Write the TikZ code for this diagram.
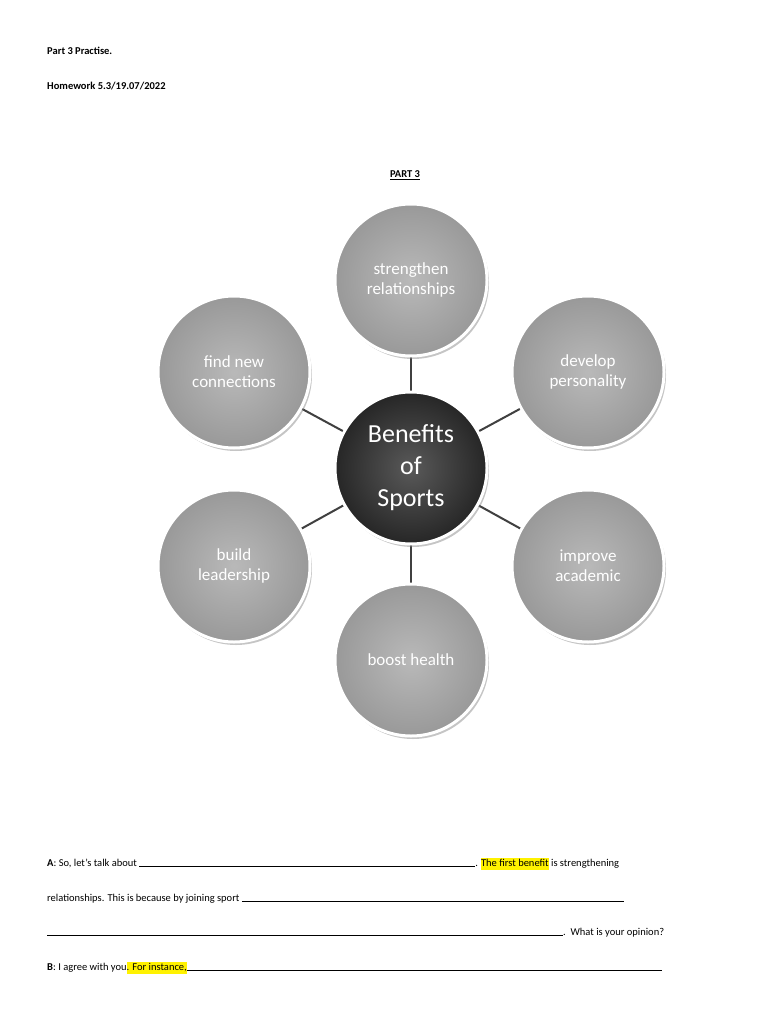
\documentclass[tikz,border=0pt]{standalone}
\usepackage{fontspec}
\setmainfont{Carlito}
\usetikzlibrary{shadows}
\begin{document}
\begin{tikzpicture}[x=1pt,y=-1pt,
  bub/.style={circle,minimum size=152pt,inner sep=0pt,align=center,text=white,
    font=\fontsize{17}{20}\selectfont,draw=white,line width=3pt,
    inner color=gray!55,outer color=gray!80,drop shadow={shadow xshift=2pt,shadow yshift=-3pt,opacity=.45}},
  hub/.style={bub,inner color=gray!70!black,outer color=black!85,font=\fontsize{26}{32}\selectfont},
  link/.style={draw=black!75,line width=2pt},
  body/.style={anchor=base west,inner sep=0pt,font=\fontsize{10.5}{12}\selectfont}]
\useasboundingbox (0,0) rectangle (768,1024);
\fill[white] (0,0) rectangle (768,1024);
\node[body,font=\bfseries\fontsize{10.5}{12}\selectfont] (t1) at (47,55) {Part 3 Practise.};
\node[body,font=\bfseries\fontsize{10.5}{12}\selectfont] (t2) at (47,90) {Homework 5.3/19.07/2022};
\node[anchor=base,inner sep=0pt,font=\bfseries\fontsize{10.5}{12}\selectfont] (t3) at (405,178) {\underline{PART 3}};
\coordinate (c) at (411,468);
\coordinate (p1) at (411,280);
\coordinate (p2) at (588,372);
\coordinate (p3) at (588,566);
\coordinate (p4) at (411,660);
\coordinate (p5) at (234,566);
\coordinate (p6) at (234,372);
\foreach \p in {p1,p2,p3,p4,p5,p6} \draw[link] (c) -- (\p);
\node[bub] (n1) at (p1) {strengthen\\relationships};
\node[bub] (n2) at (p2) {develop\\personality};
\node[bub] (n3) at (p3) {improve\\academic};
\node[bub] (n4) at (p4) {boost health};
\node[bub] (n5) at (p5) {build\\leadership};
\node[bub] (n6) at (p6) {find new\\connections};
\node[hub] (hub) at (c) {Benefits\\of\\Sports};
\def\bl#1{\rule[-1pt]{#1pt}{0.6pt}}
\def\hl#1{{\fboxsep=0pt\colorbox{yellow}{\strut #1}}}
\node[body] (l1) at (47,866) {\textbf{A}: So, let’s talk about \bl{336}. \hl{The first benefit} is strengthening};
\node[body] (l2) at (47,901) {relationships. This is because by joining sport \bl{382}};
\node[body] (l3) at (47,935) {\bl{516}.\ \ What is your opinion?};
\node[body] (l4) at (47,970) {\textbf{B}: I agree with you\hl{. For instance,}\bl{475}};
\end{tikzpicture}
\end{document}
